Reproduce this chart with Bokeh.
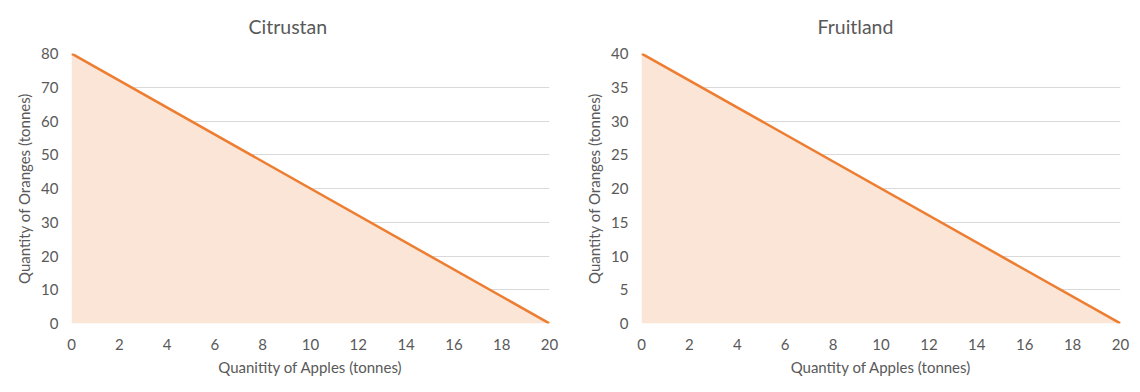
from bokeh.plotting import figure
from bokeh.layouts import row
from bokeh.models import FixedTicker, Range1d
from bokeh.embed import file_html
from bokeh.resources import INLINE

# Data
apples = [0, 20]
citrustan_oranges = [80, 0]
fruitland_oranges = [40, 0]
x_ticks = [0, 2, 4, 6, 8, 10, 12, 14, 16, 18, 20]
citrustan_y_ticks = [0, 10, 20, 30, 40, 50, 60, 70, 80]
fruitland_y_ticks = [0, 5, 10, 15, 20, 25, 30, 35, 40]
titles = ["Citrustan", "Fruitland"]
x_labels = ["Quanitity of Apples (tonnes)", "Quantity of Apples (tonnes)"]
y_label = "Quantity of Oranges (tonnes)"

FONT = "Lato"
TEXT = "#595959"
LINE = "#ED7D31"
FILL = "#FBE5D6"
GRID = "#D9D9D9"


def make(title, xlab, ys, yticks, width, left, right, title_offset):
    p = figure(width=width, height=384, output_backend="svg", toolbar_location=None,
               x_range=Range1d(0, 20), y_range=Range1d(0, max(yticks)),
               min_border_left=left, min_border_right=right,
               min_border_top=52, min_border_bottom=61)
    p.title.text = title
    p.title.align = "left"
    p.title.vertical_align = "top"
    p.title.offset = title_offset
    p.title.text_font = FONT
    p.title.text_font_size = "19.5px"
    p.title.text_font_style = "normal"
    p.title.text_color = TEXT
    p.title.standoff = 28
    p.outline_line_color = None
    p.background_fill_color = "white"

    p.varea(x=apples, y1=[0] * len(apples), y2=ys, fill_color=FILL)
    p.line(x=apples, y=ys, line_color=LINE, line_width=2.5)

    p.xaxis.ticker = FixedTicker(ticks=x_ticks)
    p.yaxis.ticker = FixedTicker(ticks=yticks)
    p.xaxis.axis_label = xlab
    p.yaxis.axis_label = y_label
    for ax in (p.xaxis, p.yaxis):
        ax.axis_line_color = None
        ax.major_tick_line_color = None
        ax.minor_tick_line_color = None
        ax.major_tick_out = 0
        ax.major_tick_in = 0
        ax.major_label_text_font = FONT
        ax.major_label_text_font_size = "15px"
        ax.major_label_text_color = TEXT
        ax.axis_label_text_font = FONT
        ax.axis_label_text_font_size = "15px"
        ax.axis_label_text_font_style = "normal"
        ax.axis_label_text_color = TEXT
    p.xaxis.major_label_standoff = 15
    p.xaxis.axis_label_standoff = 5
    p.yaxis.major_label_standoff = 13
    p.yaxis.axis_label_standoff = 5
    p.xgrid.grid_line_color = None
    p.ygrid.grid_line_color = GRID
    p.ygrid.grid_line_width = 1
    return p


p1 = make(titles[0], x_labels[0], citrustan_oranges, citrustan_y_ticks, 573, 71, 24, 177)
p2 = make(titles[1], x_labels[1], fruitland_oranges, fruitland_y_ticks, 559, 68, 12, 176)
layout = row(p1, p2)

open("out.html", "w").write(file_html(layout, INLINE))
